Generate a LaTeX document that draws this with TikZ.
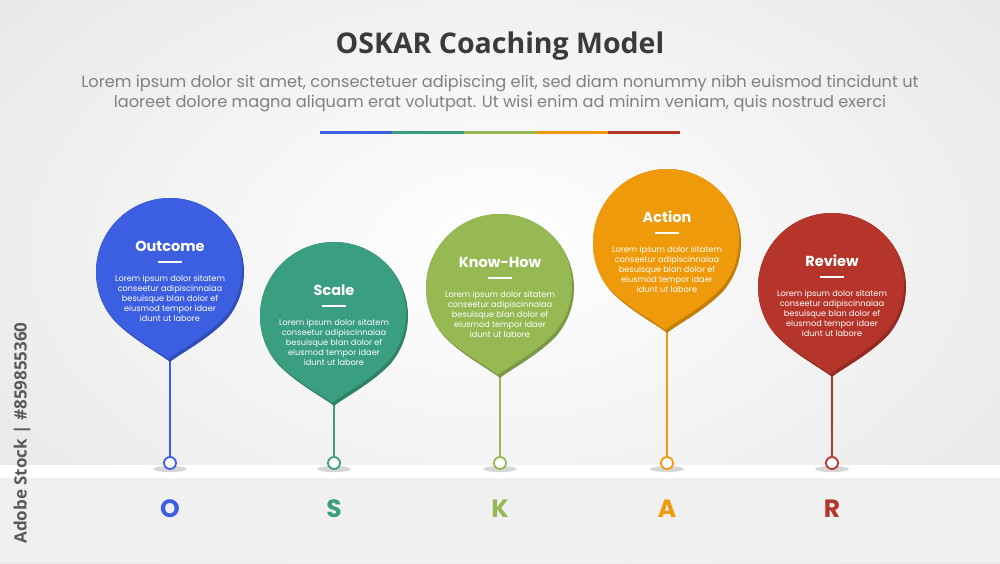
\documentclass[tikz,border=0pt]{standalone}
\usepackage{fontspec}
\setmainfont{Poppins}
\newfontfamily\osans{Open Sans}
\usetikzlibrary{calc}
\definecolor{cO}{HTML}{3B5FE0}
\definecolor{cS}{HTML}{3A9E80}
\definecolor{cK}{HTML}{97B954}
\definecolor{cA}{HTML}{EE9A0A}
\definecolor{cR}{HTML}{B5352B}
\definecolor{titlegray}{HTML}{3A3A3A}
\definecolor{subgray}{HTML}{808080}
\newcommand\pinpath{(40:74) arc[start angle=40,end angle=-220,radius=74] .. controls (-39,67) and (-8,83) .. (0,90) .. controls (8,83) and (39,67) .. (40:74) -- cycle}
\begin{document}
\begin{tikzpicture}[x=1pt,y=-1pt,
  ptitle/.style={font=\fontsize{14.5}{16}\selectfont\bfseries, text=white},
  pbody/.style={font=\fontsize{8.2}{10}\selectfont, text=white, align=center, inner sep=0pt},
  pbar/.style={white, line width=2.6pt},
  stemline/.style={line width=1.8pt},
  knob/.style={circle, draw, line width=1.8pt, fill=white, minimum size=12pt, inner sep=0pt},
  letter/.style={font=\fontsize{25}{27}\selectfont\bfseries}
]
\useasboundingbox (0,0) rectangle (1000,563);
\shade[inner color=white, outer color=black!9] (-150,-150) rectangle (1150,650);
\fill[white] (0,465) rectangle (1000,478);
\fill[black!6] (0,478) rectangle (1000,563);

\node[font=\osans\fontsize{28.5}{30}\selectfont\bfseries, text=titlegray] (title) at (500,46) {OSKAR Coaching Model};
\node[font=\fontsize{16.2}{20}\selectfont, text=subgray, align=center, inner sep=0pt] (sub) at (500,94)
  {Lorem ipsum dolor sit amet, consectetuer adipiscing elit, sed diam nonummy nibh euismod tincidunt ut\\
   laoreet dolore magna aliquam erat volutpat. Ut wisi enim ad minim veniam, quis nostrud exerci};

\coordinate (b0) at (320,132);
\coordinate (b1) at (392,132);
\coordinate (b2) at (464,132);
\coordinate (b3) at (536,132);
\coordinate (b4) at (608,132);
\coordinate (b5) at (680,132);
\draw[cO, line width=3pt] (b0) -- (b1);
\draw[cS, line width=3pt] (b1) -- (b2);
\draw[cK, line width=3pt] (b2) -- (b3);
\draw[cA, line width=3pt] (b3) -- (b4);
\draw[cR, line width=3pt] (b4) -- (b5);

\foreach \cx/\cy/\col/\nm/\tit/\ltr in {170/272/cO/o/Outcome/O, 334/316/cS/s/Scale/S, 500/288/cK/k/Know-How/K, 667/243/cA/a/Action/A, 832/287/cR/r/Review/R}{
  \fill[black!16] (\cx,469) ellipse[x radius=17, y radius=3];
  \coordinate (tip\nm) at (\cx,\cy+89);
  \node[knob, draw=\col] (knob\nm) at (\cx,463) {};
  \draw[stemline, \col] (tip\nm) -- (knob\nm);
  \fill[\col!82!black, shift={(\cx,\cy)}] \pinpath;
  \begin{scope}
    \clip[shift={(\cx,\cy)}] \pinpath;
    \fill[\col, shift={(\cx-2,\cy-3)}] \pinpath;
  \end{scope}
  \node[ptitle] (t\nm) at (\cx,\cy-26) {\tit};
  \draw[pbar] (\cx-12,\cy-10) -- (\cx+12,\cy-10);
  \node[pbody] (d\nm) at (\cx,\cy+26) {Lorem ipsum dolor sitatem\\conseetur adipiscinnaiaa\\besuisque blan dolor ef\\eiusmod tempor idaer\\idunt ut labore};
  \node[letter, text=\col] (l\nm) at (\cx,509) {\ltr};
}

\node[font=\osans\fontsize{17}{19}\selectfont\bfseries, text=black!65, rotate=90] (stock) at (22,433) {Adobe Stock | \#859855360};
\end{tikzpicture}
\end{document}
